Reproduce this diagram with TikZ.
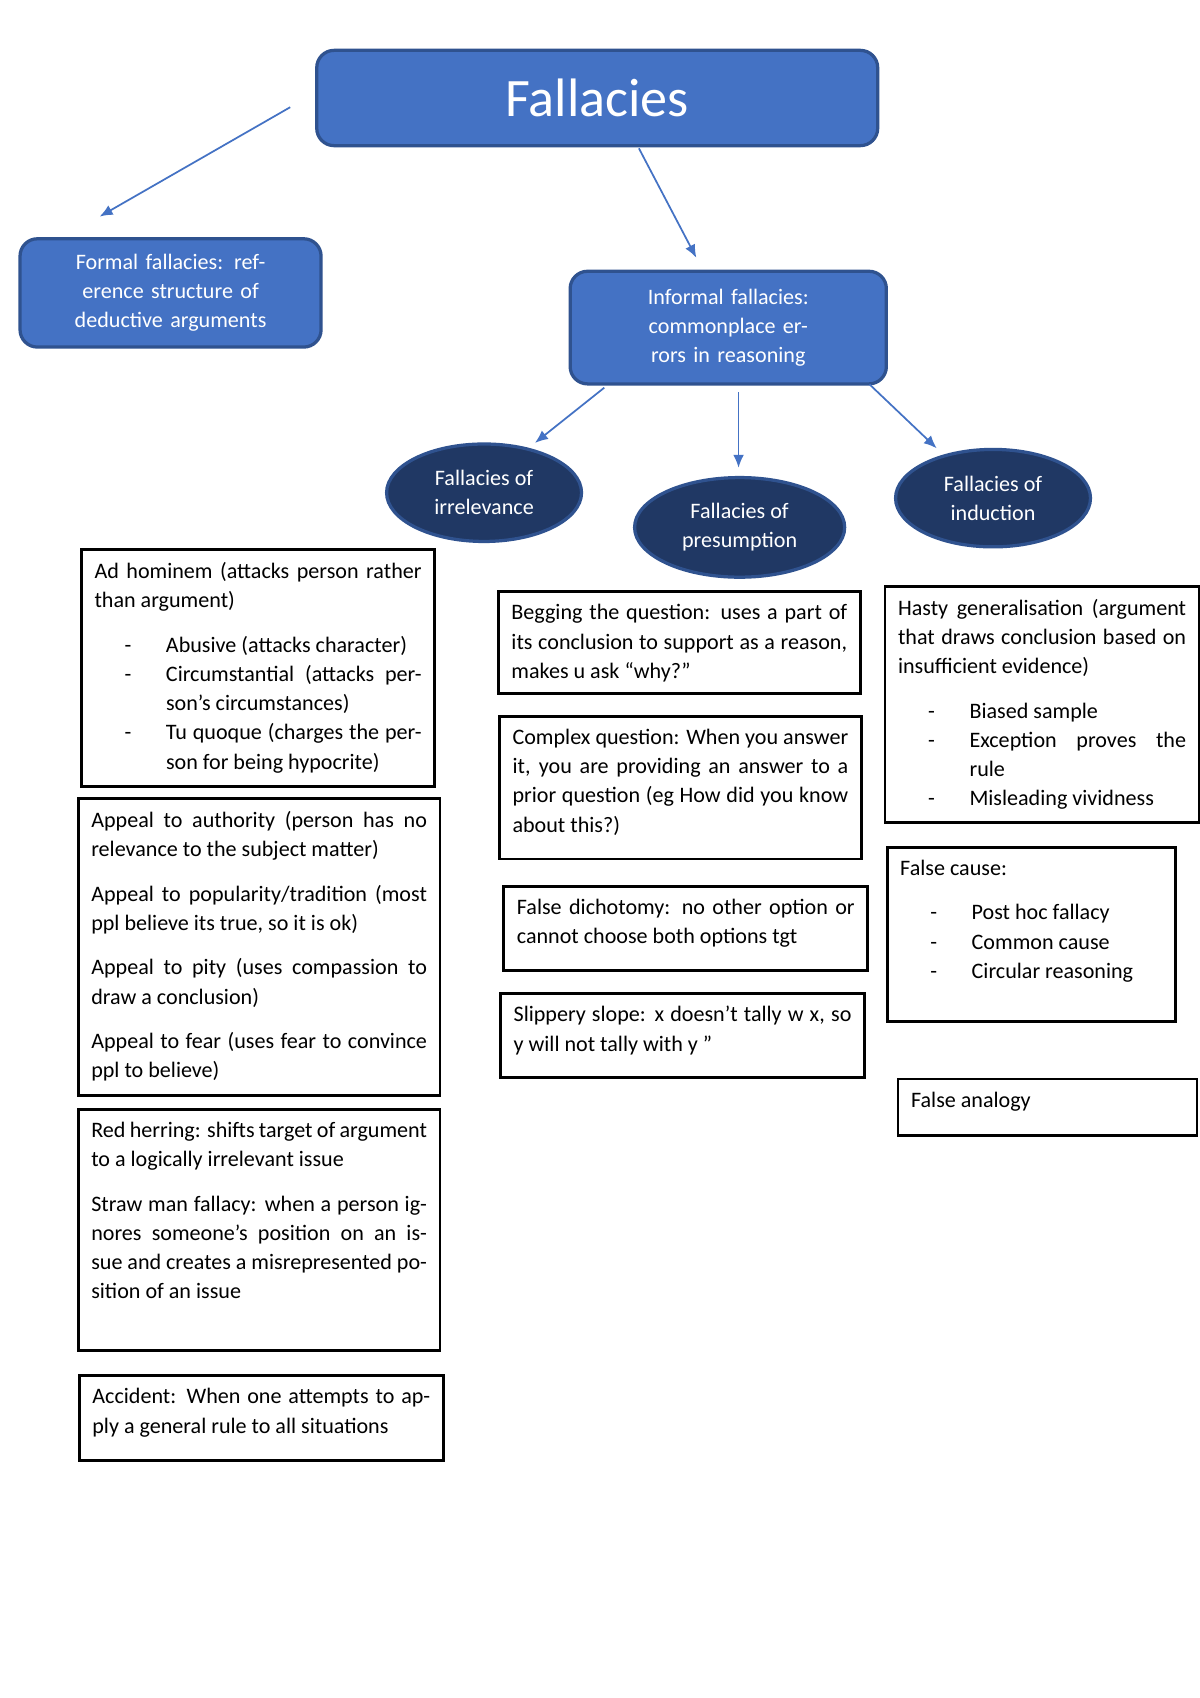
\documentclass[tikz,border=0pt]{standalone}
\usepackage{fontspec}
\setmainfont{Carlito}
\usetikzlibrary{arrows.meta,shapes.geometric,positioning}
\definecolor{mainblue}{HTML}{4472C4}
\definecolor{edgeblue}{HTML}{2F528F}
\definecolor{darkblue}{HTML}{203864}
\newcommand{\dashit}[1]{{\leftskip=33pt\noindent\llap{-\hspace{16pt}}#1\par}}
\newcommand{\gap}{\par\vspace{7pt}}
\begin{document}
\begin{tikzpicture}[x=0.5pt,y=-0.5pt,
bluenode/.style={rectangle, rounded corners=8pt, fill=mainblue, draw=edgeblue, line width=1.5pt, text=white, align=center, anchor=north west},
ovalnode/.style={ellipse, fill=darkblue, draw=edgeblue, line width=1.5pt, text=white, align=center, inner sep=0pt},
recnode/.style={rectangle, draw=black, line width=1.3pt, anchor=north west, inner sep=6pt, align=left},
arr/.style={-{Latex[length=6pt,width=5pt]}, draw=mainblue, line width=0.8pt},
font=\fontsize{10.2}{13.5}\selectfont,
]
\useasboundingbox[fill=white] (0,0) rectangle (1108,1568);
%Nodes
\node[bluenode, minimum width=259pt, minimum height=44pt, font=\fontsize{25}{30}\selectfont] (fal) at (291,45) {Fallacies};
\node[bluenode, minimum width=139pt, minimum height=50pt, text width=120pt] (formal) at (17,219) {Formal fallacies: reference structure of deductive arguments};
\node[bluenode, minimum width=146pt, minimum height=52pt, text width=100pt] (informal) at (525,249) {Informal fallacies: commonplace errors in reasoning};
\node[ovalnode, minimum width=90pt, minimum height=45pt] (irr) at (447,455) {Fallacies of\\irrelevance};
\node[ovalnode, minimum width=97pt, minimum height=46pt] (pres) at (683,487) {Fallacies of\\presumption};
\node[ovalnode, minimum width=90pt, minimum height=45pt] (ind) at (917,460) {Fallacies of\\induction};
\coordinate (f1) at (268,99); \coordinate (f2) at (590,137);
\coordinate (i1) at (558,358); \coordinate (i2) at (682,362); \coordinate (i3) at (803,355);
%Arrows
\draw[arr] (f1) -- (92,200);
\draw[arr] (f2) -- (643,238);
\draw[arr] (i1) -- (494,409);
\draw[arr] (i2) -- (682,432);
\draw[arr] (i3) -- (865,414);
%Boxes
\node[recnode] (adh) at (74,506) {\parbox[t][97.5pt][t]{151pt}{Ad hominem (attacks person rather than argument)\gap
\dashit{Abusive (attacks character)}
\dashit{Circumstantial (attacks person’s circumstances)}
\dashit{Tu quoque (charges the person for being hypocrite)}}};
\node[recnode] (appeal) at (71,736) {\parbox[t][125pt][t]{155pt}{Appeal to authority (person has no relevance to the subject matter)\gap
Appeal to popularity/tradition (most ppl believe its true, so it is ok)\gap
Appeal to pity (uses compassion to draw a conclusion)\gap
Appeal to fear (uses fear to convince ppl to believe)}};
\node[recnode] (red) at (71,1023) {\parbox[t][99.5pt][t]{155pt}{Red herring: shifts target of argument to a logically irrelevant issue\gap
Straw man fallacy: when a person ignores someone’s position on an issue and creates a misrepresented position of an issue}};
\node[recnode] (acc) at (72,1269) {\parbox[t][27pt][t]{156pt}{Accident: When one attempts to apply a general rule to all situations}};
\node[recnode] (beg) at (459,545) {\parbox[t][35pt][t]{155pt}{Begging the question: uses a part of its conclusion to support as a reason, makes u ask “why?”}};
\node[recnode] (cplx) at (460,660) {\parbox[t][54pt][t]{155pt}{Complex question: When you answer it, you are providing an answer to a prior question (eg How did you know about this?)}};
\node[recnode] (dich) at (464,817) {\parbox[t][27pt][t]{156pt}{False dichotomy: no other option or cannot choose both options tgt}};
\node[recnode] (slip) at (461,916) {\parbox[t][27pt][t]{156pt}{Slippery slope: x doesn’t tally w x, so y will not tally with y ”}};
\node[recnode] (hasty) at (816,540) {\parbox[t][97pt][t]{133pt}{Hasty generalisation (argument that draws conclusion based on insufficient evidence)\gap
\dashit{Biased sample}
\dashit{Exception proves the rule}
\dashit{Misleading vividness}}};
\node[recnode] (cause) at (818,781) {\parbox[t][68.5pt][t]{121pt}{False cause:\gap
\dashit{Post hoc fallacy}
\dashit{Common cause}
\dashit{Circular reasoning}}};
\node[recnode] (analogy) at (828,995) {\parbox[t][14pt][t]{126pt}{False analogy}};
\end{tikzpicture}
\end{document}
